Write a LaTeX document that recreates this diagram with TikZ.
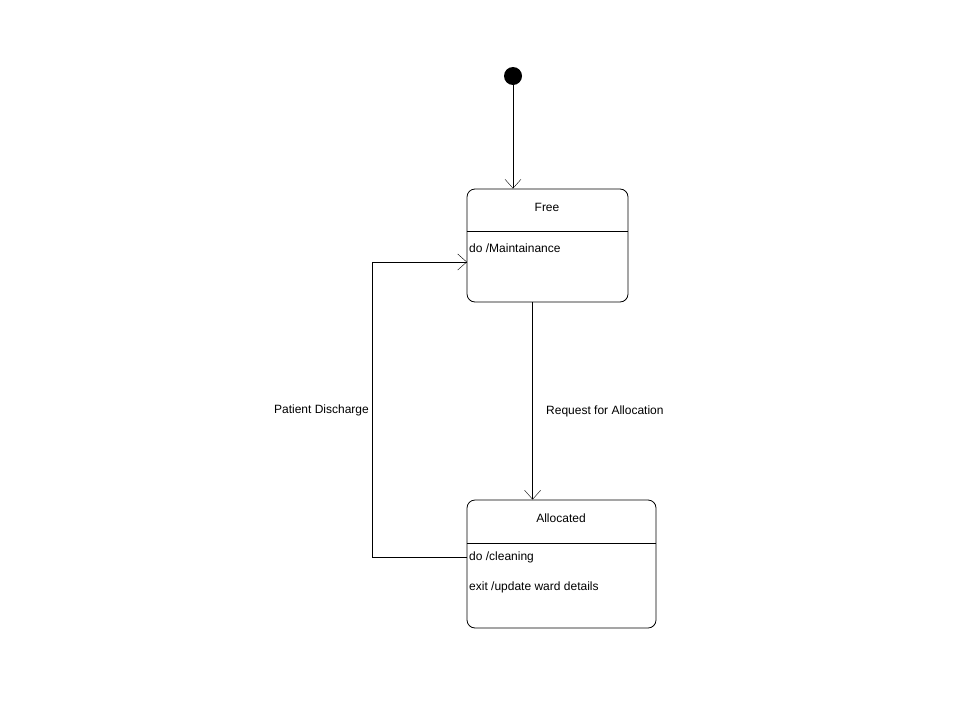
\documentclass[tikz,border=0pt]{standalone}
\usepackage{fontspec}
\setmainfont{Liberation Sans}
\usetikzlibrary{arrows.meta,calc}
\begin{document}
\begin{tikzpicture}[x=1pt,y=-1pt,
  state/.style={draw,thick,rounded corners=8pt,inner sep=0pt},
  lbl/.style={font=\fontsize{12}{14}\selectfont,inner sep=1pt},
  arr/.style={-{Straight Barb[length=9pt,width=16pt]},thin}]
\useasboundingbox (0,0) rectangle (960,720);
\fill[black] (513,76) circle (9);
\node[circle,minimum size=18pt,inner sep=0pt] (dot) at (513,76) {};
\node[state,minimum width=161pt,minimum height=113pt] (free) at (547.5,245.5) {};
\node[state,minimum width=189pt,minimum height=128pt] (alloc) at (561.5,564) {};
\draw[thick] (free.west |- 0,231) -- (free.east |- 0,231);
\draw[thick] (alloc.west |- 0,543) -- (alloc.east |- 0,543);
\node[lbl] (ft) at (547,207) {Free};
\node[lbl,anchor=west] (fd) at (468,248) {do /Maintainance};
\node[lbl] (at) at (561,518) {Allocated};
\node[lbl,anchor=west] (ad1) at (468,557) {do /cleaning};
\node[lbl,anchor=west] (ad2) at (468,587) {exit /update ward details};
\draw[arr] (dot) -- (dot |- free.north);
\coordinate (rs) at ($(free.south west)+(66,0)$);
\draw[arr] (rs) -- (rs |- alloc.north);
\node[lbl,anchor=west] (rl) at (545,411) {Request for Allocation};
\coordinate (p1) at (467,557);
\coordinate (p2) at (372,557);
\coordinate (p3) at (372,262);
\coordinate (p4) at (467,262);
\draw[arr] (p1) -- (p2) -- (p3) -- (p4);
\node[lbl,anchor=east] (pl) at (370,410) {Patient Discharge};
\end{tikzpicture}
\end{document}
